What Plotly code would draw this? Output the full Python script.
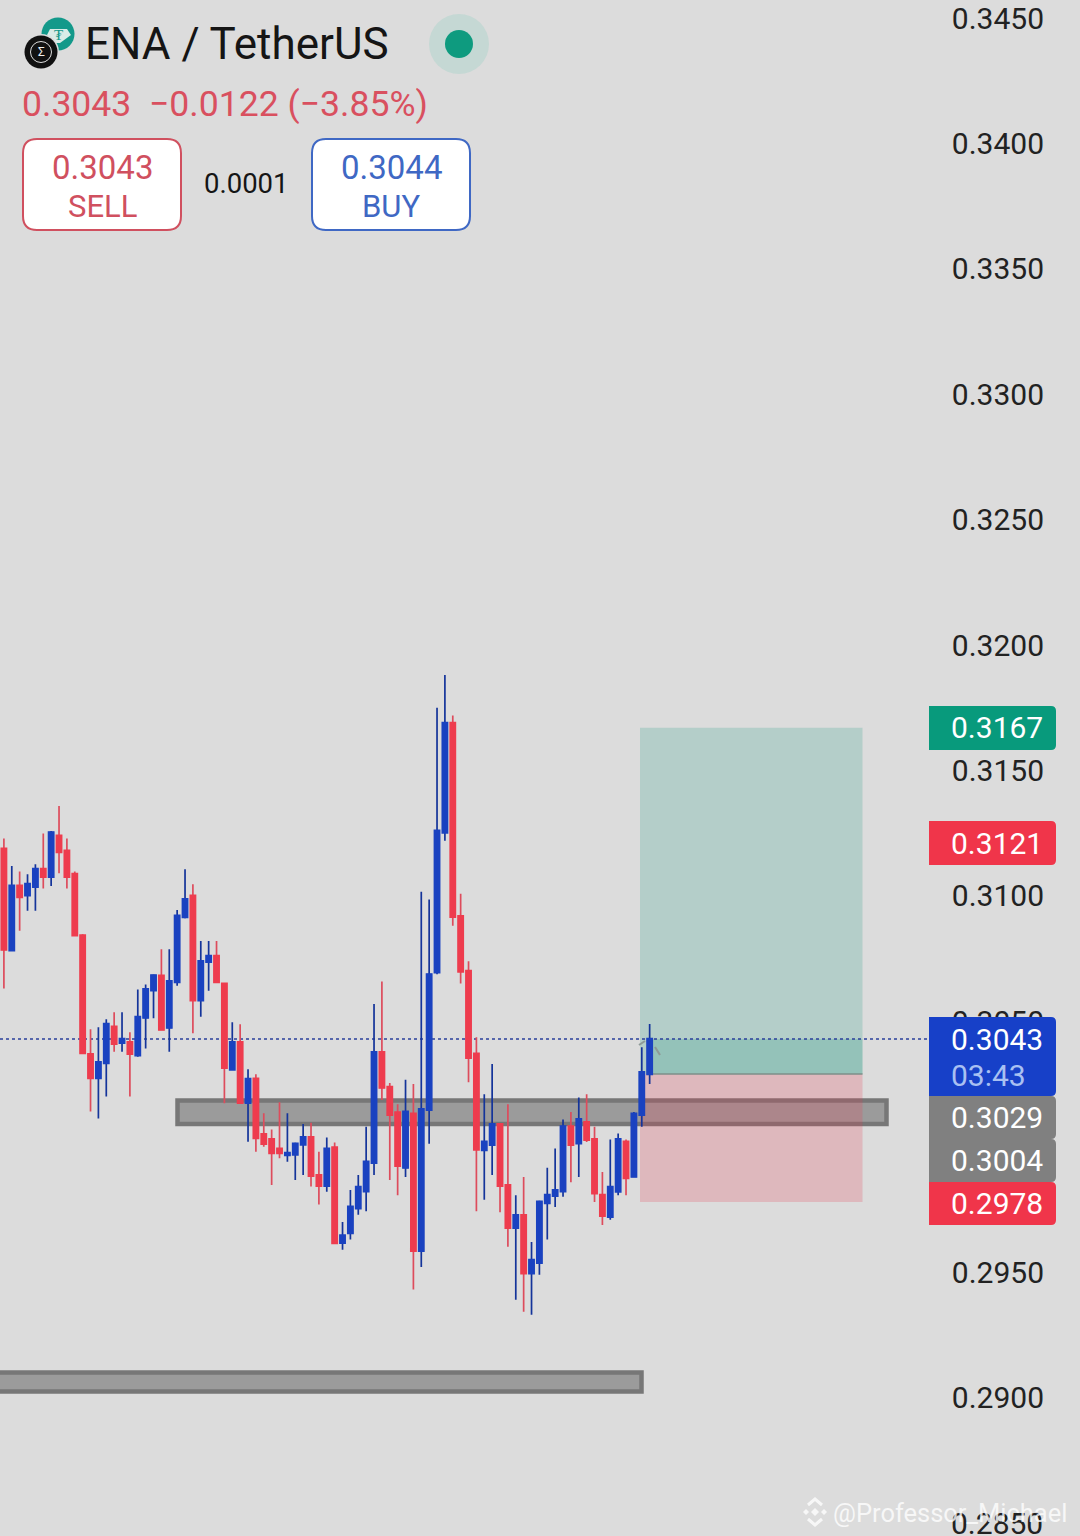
import plotly.graph_objects as go

# ---------- data ----------
tick_values = [0.345, 0.34, 0.335, 0.33, 0.325, 0.32, 0.315, 0.31, 0.305, 0.295, 0.29, 0.285]
tick_labels = ["0.3450", "0.3400", "0.3350", "0.3300", "0.3250", "0.3200", "0.3150", "0.3100", "0.3050", "0.2950", "0.2900", "0.2850"]

high = [.31229,.31119,.31097,.31086,.31126,.31249,.31259,.31358,.31229,.31097,.30847,.30468,.30476,.30508,.30536,.30536,.30456,.30627,.30647,.30687,.30787,
        .30787,.30944,.31106,.31046,.30820,.30820,.30820,.30651,.30496,.30488,.30309,.30289,.30133,.30069,.30177,.30133,.30016,.30091,.30096,.29980,.30037,
        .30017,.29700,.29828,.29887,.30080,.30569,.30659,.30254,.30169,.30267,.30250,.31017,.30986,.31750,.31881,.31719,.31009,.30739,.30436,.30209,.30330,
        .30092,.30169,.29807,.29879,.29620,.29785,.29916,.29993,.30109,.30138,.30196,.30209,.30080,.29899,.30029,.30053,.30029,.30138,.30397,.30489]
top = [.31187,.31039,.31039,.31046,.31106,.31106,.31252,.31239,.31179,.31086,.30841,.30368,.30336,.30488,.30477,.30429,.30416,.30516,.30627,.30682,.30681,
       .30659,.30920,.30986,.31000,.30738,.30759,.30759,.30649,.30416,.30416,.30269,.30270,.30049,.30029,.29991,.29974,.30011,.30037,.30037,.29885,.29991,
       .29996,.29645,.29760,.29838,.29939,.30376,.30376,.30237,.30135,.30138,.30131,.30148,.30686,.31259,.31688,.31688,.30918,.30700,.30370,.30019,.30089,
       .30089,.29845,.29726,.29726,.29547,.29780,.29807,.29826,.30080,.30080,.30109,.30097,.30029,.29807,.29838,.30029,.30019,.30131,.30296,.30429]
bottom = [.30787,.30784,.30997,.31004,.31037,.31077,.31077,.31176,.31077,.30844,.30375,.30275,.30275,.30335,.30412,.30416,.30372,.30366,.30516,.30625,.30468,
          .30476,.30658,.30917,.30585,.30585,.30738,.30658,.30316,.30309,.30176,.30176,.30036,.30013,.29976,.29976,.29968,.29970,.30010,.29885,.29845,.29845,
          .29617,.29618,.29657,.29756,.29824,.29937,.30237,.30129,.29925,.29918,.29586,.29586,.30148,.30697,.31254,.30918,.30700,.30356,.29990,.29988,.30009,
          .29845,.29678,.29678,.29497,.29497,.29538,.29777,.29806,.29824,.30009,.30015,.30029,.29816,.29726,.29722,.29823,.29876,.29882,.30129,.30291]
low = [.30631,.30782,.30861,.30941,.30941,.31030,.31039,.31090,.31030,.30841,.30372,.30140,.30113,.30200,.30379,.30379,.30200,.30359,.30392,.30512,.30465,
       .30379,.30642,.30911,.30452,.30518,.30622,.30655,.30173,.30306,.30173,.30020,.29980,.30000,.29847,.29954,.29940,.29867,.29887,.29841,.29770,.29821,
       .29615,.29589,.29630,.29729,.29743,.29887,.30186,.29867,.29807,.29879,.29431,.29521,.30012,.30688,.31220,.30881,.30651,.30257,.29743,.29789,.29887,
       .29739,.29601,.29390,.29342,.29330,.29490,.29630,.29760,.29801,.29858,.29879,.30019,.29780,.29688,.29709,.29807,.29807,.29882,.30080,.30250]
# candle direction: 1 = blue (up), 0 = red (down)
up = [0,1,0,1,1,0,1,0,0,0,0,0,1,1,0,1,0,1,1,1,0,
      1,1,1,0,1,1,0,0,1,0,1,0,0,0,0,1,1,1,0,0,1,
      0,1,1,1,1,1,0,0,0,1,0,1,1,1,1,0,0,0,0,1,1,
      0,0,1,0,1,1,1,1,1,0,1,0,0,0,1,1,0,1,1,1]

last_price = 0.3043
entry_price = 0.3029
target_price = 0.3167
stop_price = 0.2978
zone_upper = (0.30184, 0.30091)
zone_lower = (0.29100, 0.29024)
price_labels = [("0.3167", 728), ("0.3121", 843), ("0.3029", 1117), ("0.3004", 1160), ("0.2978", 1203)]

# ---------- geometry helpers (page furniture only) ----------
W, H = 1080, 1536
PX0, PXSTEP = 3.9, 7.875
Y_TOP = 0.345 + 18 / 25083
Y_BOT = 0.345 - 1518 / 25083
n = len(high)
xs = list(range(n))
opens = [b if u else t for u, t, b in zip(up, top, bottom)]
closes = [t if u else b for u, t, b in zip(up, top, bottom)]

def xi(px):
    return (px - PX0) / PXSTEP
def fx(px):
    return px / W
def fy(py):
    return 1 - py / H

BG = "#dcdcdc"
RED, BLUE = "#ee3c4e", "#1a42c0"
RED_W, BLUE_W = "#dd4c5c", "#14349a"
FONT = "Roboto"

fig = go.Figure()
# wicks
fig.add_trace(go.Candlestick(x=xs, open=opens, high=high, low=low, close=closes,
    increasing=dict(line=dict(color=BLUE_W, width=1.7), fillcolor=BLUE),
    decreasing=dict(line=dict(color=RED_W, width=1.7), fillcolor=RED),
    whiskerwidth=0, showlegend=False, hoverinfo="skip"))
# bodies
fig.add_trace(go.Candlestick(x=xs, open=opens, high=top, low=bottom, close=closes,
    increasing=dict(line=dict(color=BLUE, width=3), fillcolor=BLUE),
    decreasing=dict(line=dict(color=RED, width=3), fillcolor=RED),
    whiskerwidth=0, showlegend=False, hoverinfo="skip"))

shapes = []
def zone(x0, x1, ys):
    shapes.append(dict(type="rect", xref="x", yref="y", x0=x0, x1=x1, y0=ys[0], y1=ys[1],
                       fillcolor="#9b9b9b", line=dict(color="#777777", width=4.5), layer="below"))
zone(xi(177.5), xi(886.5), zone_upper)
zone(xi(-10), xi(641.5), zone_lower)

def data_rect(px0, px1, y0, y1, fill, line=None):
    shapes.append(dict(type="rect", xref="x", yref="y", x0=xi(px0), x1=xi(px1), y0=y0, y1=y1,
                       fillcolor=fill, line=dict(width=0) if line is None else line, layer="below"))
data_rect(640, 862.5, entry_price, target_price, "rgba(20,150,125,0.2)")
data_rect(640, 862.5, stop_price, entry_price, "rgba(230,60,80,0.22)")
data_rect(650, 862.5, entry_price, last_price, "rgba(20,150,125,0.2)")
shapes.append(dict(type="line", xref="x", yref="y", x0=xi(650), x1=xi(862.5), y0=entry_price, y1=entry_price,
                   line=dict(color="#7d8f8a", width=1.5), layer="below"))
# last price dotted line
shapes.append(dict(type="line", xref="x", yref="y", x0=xi(0), x1=xi(928), y0=last_price, y1=last_price,
                   line=dict(color="#2a3f9a", width=1.5, dash="dot"), layer="below"))

def rpath(x0, y0, x1, y1, rl, rr):
    """rounded rect path in paper coordinates from pixel values"""
    p = lambda a, b: f"{fx(a):.5f},{fy(b):.5f}"
    d = "M" + p(x0 + rl, y0) + " L" + p(x1 - rr, y0) + " Q" + p(x1, y0) + " " + p(x1, y0 + rr)
    d += " L" + p(x1, y1 - rr) + " Q" + p(x1, y1) + " " + p(x1 - rr, y1)
    d += " L" + p(x0 + rl, y1) + " Q" + p(x0, y1) + " " + p(x0, y1 - rl)
    d += " L" + p(x0, y0 + rl) + " Q" + p(x0, y0) + " " + p(x0 + rl, y0) + " Z"
    return d

def pshape(x0, y0, x1, y1, fill, rl=0, rr=5, line=None):
    shapes.append(dict(type="path", xref="paper", yref="paper", path=rpath(x0, y0, x1, y1, rl, rr),
                       fillcolor=fill, line=dict(width=0) if line is None else line, layer="above"))

def circle(cx, cy, r, fill, line=None):
    shapes.append(dict(type="circle", xref="paper", yref="paper", x0=fx(cx - r), x1=fx(cx + r),
                       y0=fy(cy + r), y1=fy(cy - r), fillcolor=fill,
                       line=dict(width=0) if line is None else line, layer="above"))

def poly(points, fill=None, line=None, close=True):
    d = "M" + " L".join(f"{fx(a):.5f},{fy(b):.5f}" for a, b in points) + (" Z" if close else "")
    shapes.append(dict(type="path", xref="paper", yref="paper", path=d,
                       fillcolor=fill if fill else "rgba(0,0,0,0)",
                       line=dict(width=0) if line is None else line, layer="above"))

# price tags
pshape(929, 706, 1056, 750, "#089a7c")
pshape(929, 821, 1056, 865, "#f0354a")
pshape(929, 1017, 1056, 1096, "#1740c8")
pshape(929, 1096, 1056, 1139, "#808080")
pshape(929, 1139, 1056, 1182, "#808080")
pshape(929, 1182, 1056, 1225, "#f0354a")

# position-tool handles next to the last candle
poly([(639, 1045), (645, 1041)], line=dict(color="#8d9a97", width=2), close=False)
poly([(655, 1047), (660, 1055)], line=dict(color="#8d9a97", width=2), close=False)

# buy/sell buttons
pshape(23, 139, 181, 230, "#ffffff", 14, 14, dict(color="#d0505f", width=2))
pshape(312, 139, 470, 230, "#ffffff", 14, 14, dict(color="#3f68c4", width=2))

# status dot
circle(459, 44, 30, "#c5d8d4")
circle(459, 44, 14, "#0e9b7f")
# logos
circle(58, 34, 16.5, "#13998a")
poly([(50, 29), (67, 29), (71, 35), (60, 43), (56, 43), (47, 35)], fill="#d9ece7")
circle(41, 52, 18, BG)
circle(41, 52, 16.5, "#111111")
circle(41, 52, 10.5, "#111111", dict(color="#dddddd", width=1))

# watermark logo
WM = "rgba(255,255,255,0.78)"
poly([(815, 1508), (819, 1512), (815, 1516), (811, 1512)], fill=WM)
poly([(806, 1509), (809, 1512), (806, 1515), (803, 1512)], fill=WM)
poly([(824, 1509), (827, 1512), (824, 1515), (821, 1512)], fill=WM)
poly([(808, 1505), (815, 1499), (822, 1505)], line=dict(color=WM, width=3), close=False)
poly([(808, 1519), (815, 1525), (822, 1519)], line=dict(color=WM, width=3), close=False)

annotations = []
def text(x, y, s, size, color, anchor="left"):
    annotations.append(dict(xref="paper", yref="paper", x=fx(x), y=fy(y), text=s, showarrow=False,
                            xanchor=anchor, yanchor="middle", borderpad=0,
                            font=dict(family=FONT, size=size, color=color)))

for label, py in price_labels:
    text(950, py, label, 30, "#ffffff")
text(950, 1039, "0.3043", 30, "#ffffff")
text(950, 1075, "03:43", 30, "#a9c0f2")
text(84, 44, "ENA / TetherUS", 44, "#151515")
text(21, 104, "0.3043  −0.0122 (−3.85%)", 35.6, "#d9505f")
text(102, 167, "0.3043", 33, "#d0505f", "center")
text(102, 206, "SELL", 31, "#d0505f", "center")
text(246, 183, "0.0001", 27.5, "#151515", "center")
text(391, 167, "0.3044", 33, "#3f68c4", "center")
text(391, 206, "BUY", 31, "#3f68c4", "center")
text(58, 35, "₮", 15, "#13998a", "center")
text(41, 52, "Σ", 12, "#eeeeee", "center")
# the bottom tick label, which the axis drops at the page edge
text(1044, 1523, tick_labels[-1], 30, "#222222", "right")
text(832, 1513, "@Professor_Michael", 25.5, WM)

fig.update_layout(
    width=W, height=H, margin=dict(l=0, r=0, t=0, b=0),
    paper_bgcolor=BG, plot_bgcolor=BG, showlegend=False, boxmode="overlay",
    xaxis=dict(range=[xi(0), xi(W)], visible=False, rangeslider=dict(visible=False), fixedrange=True),
    yaxis=dict(range=[Y_BOT, Y_TOP], anchor="free", position=1044 / W, side="left", showgrid=False, zeroline=False,
               showline=False, tickmode="array", tickvals=tick_values, ticktext=tick_labels, ticks="",
               tickfont=dict(family=FONT, size=30, color="#222222"), fixedrange=True),
    shapes=shapes, annotations=annotations,
)
fig.write_html("out.html", config=dict(displayModeBar=False),
               post_script="document.body.style.margin='0';")
